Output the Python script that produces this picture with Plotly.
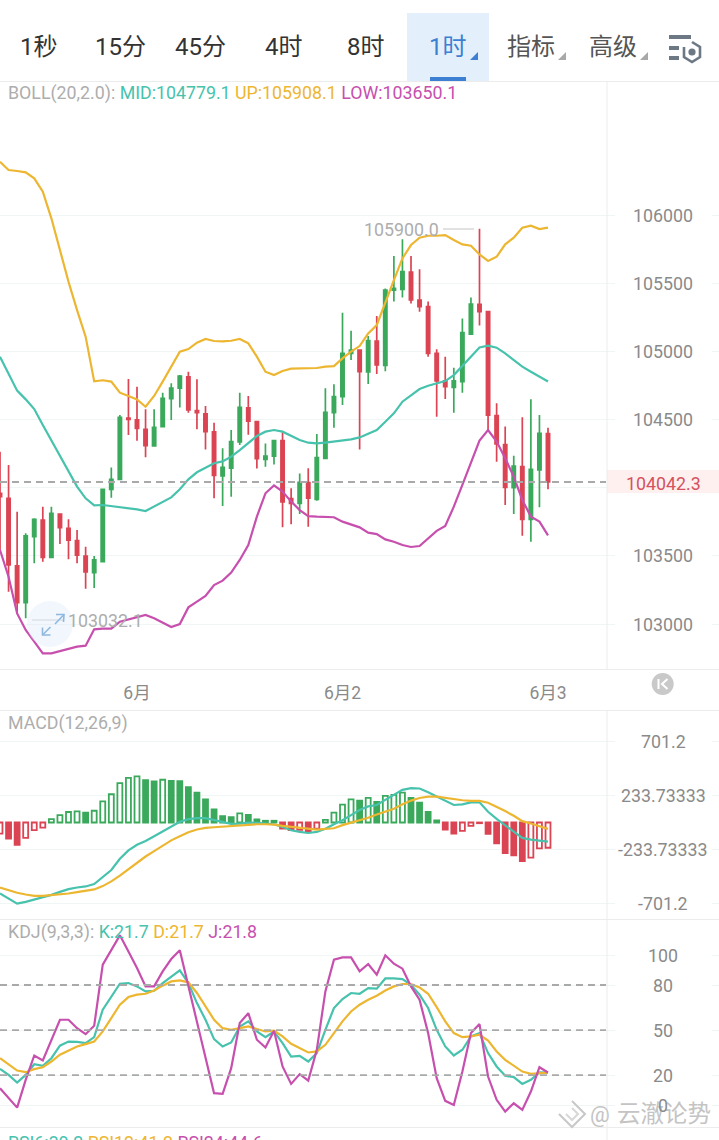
import plotly.graph_objects as go

WIDTH = 719
HEIGHT = 1140

TEAL = "#47c2ad"
YELLOW = "#edb631"
PINK = "#c74fae"
RED = "#db4453"
GREEN = "#3aa95b"
GREY_TEXT = "#8a8a8a"
LABEL_GREY = "#adadad"
GRID = "#f0f5f5"
SEPARATOR = "#ececec"
FONT = "Roboto, 'Noto Sans CJK SC', sans-serif"
LABEL_SIZE = 17.8
LINE_WIDTH = 2.2

# ---- candles (1h) ----
opens = [103959, 103922, 103426, 103157, 103641, 103763, 103489, 103807, 103702, 103611,
         103499, 103377, 103457, 103988, 104061, 104511, 104497, 104428, 104306, 104448,
         104653, 104731, 104814, 104565, 104541, 104409, 104086, 104144, 104335, 104585,
         104484, 104208, 104232, 104345, 103920, 103885, 104037, 103915, 104215, 104550,
         104668, 104986, 105010, 104849, 105076, 104898, 105450, 105455, 105582, 105377,
         105328, 104986, 104783, 104736, 104778, 105127, 105345, 105291, 104528, 104316,
         104000, 104154, 103768, 104130, 104396]
highs = [104264, 104166, 103824, 103665, 103775, 103861, 103861, 103812, 103768, 103690,
         103567, 103499, 103988, 104149, 104533, 104797, 104741, 104575, 104575, 104697,
         104766, 104827, 104851, 104795, 104599, 104477, 104289, 104423, 104697, 104673,
         104484, 104325, 104350, 104409, 103995, 104105, 104142, 104394, 104729, 104758,
         105284, 105152, 105010, 105113, 105259, 105462, 105700, 105822, 105700, 105602,
         105365, 105015, 104961, 104880, 105242, 105396, 105900, 105291, 104619, 104448,
         104235, 104516, 104648, 104533, 104440]
lows = [103543, 103237, 103078, 103042, 103445, 103457, 103489, 103587, 103475, 103445,
        103259, 103264, 103453, 103927, 104056, 104387, 104345, 104223, 104306, 104448,
        104497, 104589, 104550, 104428, 104281, 103922, 103866, 103934, 104313, 104389,
        104140, 104154, 104171, 103709, 103731, 103807, 103714, 103905, 104215, 104440,
        104607, 104937, 104281, 104761, 104834, 104854, 105365, 105396, 105352, 105291,
        104961, 104521, 104651, 104550, 104697, 105120, 105189, 104423, 104191, 103873,
        103807, 103648, 103604, 103856, 103988]
closes = [103934, 103433, 103157, 103646, 103768, 103489, 103812, 103707, 103616, 103506,
          103382, 103470, 103988, 104061, 104516, 104501, 104435, 104308, 104443, 104655,
          104731, 104819, 104570, 104550, 104411, 104091, 104149, 104338, 104589, 104489,
          104213, 104232, 104345, 103895, 103885, 104039, 103924, 104220, 104553, 104668,
          104986, 105010, 104851, 105079, 104900, 105450, 105462, 105585, 105377, 105328,
          104986, 104783, 104741, 104783, 105137, 105347, 105291, 104533, 104321, 104003,
          104159, 103768, 104135, 104399, 104042]

# ---- BOLL ----
boll_up = [106391, 106330, 106323, 106313, 106269, 106171, 105976, 105743, 105511, 105303,
           105108, 104780, 104788, 104778, 104697, 104673, 104648, 104594, 104673, 104778,
           104888, 104998, 105017, 105064, 105091, 105076, 105074, 105078, 105091, 105059,
           104961, 104851, 104826, 104856, 104873, 104873, 104875, 104878, 104888, 104892,
           104949, 104998, 105039, 105132, 105193, 105364, 105523, 105682, 105780, 105834,
           105848, 105848, 105853, 105817, 105785, 105775, 105711, 105663, 105694, 105785,
           105834, 105907, 105922, 105897, 105908]
boll_mid = [104961, 104839, 104712, 104648, 104577, 104460, 104345, 104228, 104113, 104008,
            103922, 103871, 103873, 103866, 103856, 103849, 103841, 103829, 103861, 103898,
            103929, 103988, 104061, 104113, 104149, 104179, 104193, 104228, 104276, 104330,
            104379, 104411, 104423, 104411, 104379, 104350, 104330, 104325, 104330, 104338,
            104345, 104355, 104369, 104394, 104423, 104484, 104545, 104631, 104680, 104724,
            104748, 104765, 104782, 104826, 104892, 104961, 105029, 105042, 105027, 104985,
            104936, 104888, 104851, 104814, 104779]
boll_low = [103543, 103347, 103078, 102956, 102871, 102785, 102785, 102802, 102822, 102834,
            102841, 102961, 102966, 102966, 103017, 103034, 103047, 103066, 103042, 103010,
            102978, 103000, 103122, 103164, 103206, 103286, 103318, 103377, 103470, 103580,
            103788, 103959, 104017, 103971, 103898, 103836, 103792, 103788, 103785, 103783,
            103751, 103731, 103709, 103670, 103660, 103621, 103604, 103580, 103565, 103572,
            103629, 103683, 103719, 103861, 104020, 104179, 104345, 104423, 104338, 104216,
            104081, 103910, 103788, 103751, 103650]

# ---- MACD ----
macd_hist = [-96, -140, -193, -134, -67, -44, 29, 64, 91, 96,
             85, 102, 184, 245, 342, 388, 400, 368, 356, 371,
             362, 359, 307, 260, 201, 114, 55, 47, 79, 67,
             26, 15, 15, -53, -67, -64, -82, -53, 23, 85,
             155, 201, 190, 213, 178, 231, 239, 260, 213, 172,
             91, 18, -61, -96, -73, -29, -6, -99, -181, -266,
             -286, -336, -304, -225, -219]
macd_dif = [-616, -657, -704, -689, -669, -654, -628, -602, -578, -564,
            -555, -534, -476, -412, -315, -242, -193, -161, -120, -76,
            -35, 6, 29, 38, 38, 20, 3, -12, -9, 0,
            -3, -9, -15, -38, -67, -82, -91, -82, -55, -15,
            20, 64, 108, 140, 152, 196, 239, 283, 298, 295,
            263, 225, 184, 152, 158, 175, 175, 93, 32, -23,
            -76, -134, -149, -155, -166]
macd_dea = [-564, -587, -610, -625, -637, -637, -631, -625, -616, -604,
            -593, -581, -552, -511, -461, -403, -347, -295, -248, -199,
            -155, -120, -85, -61, -47, -41, -35, -29, -23, -18,
            -15, -15, -18, -29, -38, -47, -53, -61, -55, -50,
            -23, -3, 20, 41, 70, 93, 120, 158, 190, 213,
            225, 225, 213, 201, 193, 187, 187, 172, 137, 99,
            58, 12, -9, -32, -55]

# ---- KDJ ----
kdj_k = [24.2, 20.2, 15.1, 20.2, 27.3, 26.2, 31.3, 39.6, 42.4, 42.2,
         41.3, 45.3, 63.6, 72.4, 80.9, 81.3, 79.1, 75.8, 76.2, 81.3,
         85.8, 89.8, 81.3, 68.0, 56.9, 44.0, 39.1, 41.8, 52.4, 55.8,
         49.1, 45.3, 49.1, 41.3, 32.4, 32.9, 29.1, 34.7, 50.2, 64.7,
         70.7, 74.7, 74.2, 78.0, 77.6, 84.4, 84.4, 84.0, 80.2, 73.6,
         64.7, 50.2, 39.1, 33.1, 36.9, 45.8, 48.0, 34.7, 25.8, 19.6,
         18.7, 14.2, 16.9, 21.8, 21.7]
kdj_d = [31.3, 26.9, 23.1, 22.0, 24.0, 25.3, 29.1, 33.6, 36.4, 39.1,
         40.7, 42.4, 49.1, 58.0, 66.9, 72.0, 73.6, 74.2, 76.4, 79.6,
         82.4, 83.1, 81.8, 74.7, 65.8, 56.9, 51.3, 50.2, 51.3, 52.4,
         50.7, 49.1, 49.6, 45.8, 40.9, 38.0, 35.1, 35.8, 40.2, 48.0,
         55.8, 62.4, 66.9, 70.2, 72.9, 76.4, 79.1, 80.7, 80.7, 78.4,
         74.2, 65.3, 55.8, 48.0, 45.3, 45.8, 46.9, 43.1, 35.8, 30.2,
         26.2, 22.4, 20.9, 21.3, 21.7]
kdj_j = [11.3, 4.7, -1.6, 16.9, 33.1, 29.8, 43.6, 56.9, 56.9, 51.3,
         47.3, 52.9, 93.6, 103.6, 113.1, 102.4, 91.3, 79.1, 79.1, 89.1,
         97.3, 103.1, 79.1, 54.7, 30.2, 8.0, 7.6, 24.7, 54.7, 61.3,
         43.6, 38.4, 49.6, 25.8, 14.2, 20.7, 16.4, 36.9, 75.8, 96.9,
         98.4, 98.4, 89.1, 94.0, 86.9, 99.8, 94.2, 90.9, 79.1, 70.2,
         48.0, 18.0, 2.9, 0.2, 22.4, 48.0, 54.0, 19.1, 3.6, -4.2,
         1.3, -3.1, 9.1, 25.3, 21.8]

# ---- axis text ----
date_ticks = [16, 40, 64]
date_labels = ["6月", "6月2", "6月3"]
price_ticks = [103000, 103500, 104000, 104500, 105000, 105500, 106000]
price_labels = ["103000", "103500", "", "104500", "105000", "105500", "106000"]
macd_ticks = [-701.2, -233.73333, 233.73333, 701.2]
kdj_ticks = [0, 20, 50, 80, 100]
kdj_dashed = [20, 50, 80]
last_price = 104042.3

tab_labels = ["1秒", "15分", "45分", "4时", "8时", "1时", "指标", "高级"]
tab_centers = [39, 120, 201, 284, 366, 448, 531, 613]
tab_colors = ["#333333"] * 5 + ["#3d7fd2", "#555555", "#555555"]


def px_x(x):
    return x / WIDTH


def px_y(y):
    return 1 - y / HEIGHT


def coloured(parts):
    return " ".join(f'<span style="color:{c}">{t}</span>' for t, c in parts)


def rect(x0, y0, x1, y1, fill, layer="above"):
    return dict(type="rect", xref="paper", yref="paper", x0=px_x(x0), x1=px_x(x1),
                y0=px_y(y1), y1=px_y(y0), fillcolor=fill, line=dict(width=0), layer=layer)


def seg(x0, y0, x1, y1, color, width=1.0, dash=None):
    return dict(type="line", xref="paper", yref="paper", x0=px_x(x0), x1=px_x(x1),
                y0=px_y(y0), y1=px_y(y1), line=dict(color=color, width=width, dash=dash),
                layer="above")


def poly(points, color, width=1.5, fill=None):
    path = "M" + " L".join(f"{px_x(x):.5f},{px_y(y):.5f}" for x, y in points)
    if fill:
        path += " Z"
    return dict(type="path", xref="paper", yref="paper", path=path, layer="above",
                fillcolor=fill or "rgba(0,0,0,0)", line=dict(color=color, width=width))


def circle(cx, cy, r, fill, line_color=None, line_width=0):
    return dict(type="circle", xref="paper", yref="paper", x0=px_x(cx - r), x1=px_x(cx + r),
                y0=px_y(cy + r), y1=px_y(cy - r), fillcolor=fill, layer="above",
                line=dict(color=line_color or fill, width=line_width))


def text(x, y, s, size=LABEL_SIZE, color=GREY_TEXT, anchor="center"):
    return dict(xref="paper", yref="paper", x=px_x(x), y=px_y(y), text=s, showarrow=False,
                xanchor=anchor, yanchor="middle", font=dict(family=FONT, size=size, color=color),
                borderpad=0)


def axis_label(value, s, yref, color=GREY_TEXT):
    return dict(xref="paper", yref=yref, x=px_x(663), y=value, text=s, showarrow=False,
                xanchor="center", yanchor="middle",
                font=dict(family=FONT, size=LABEL_SIZE, color=color))


xs = list(range(len(closes)))

fig = go.Figure()

fig.add_trace(go.Candlestick(
    x=xs, open=opens, high=highs, low=lows, close=closes,
    increasing=dict(line=dict(color=GREEN, width=1.7), fillcolor=GREEN),
    decreasing=dict(line=dict(color=RED, width=1.7), fillcolor=RED),
    whiskerwidth=0, xaxis="x", yaxis="y", showlegend=False,
))
for values, color in [(boll_mid, TEAL), (boll_up, YELLOW), (boll_low, PINK)]:
    fig.add_trace(go.Scatter(x=xs, y=values, mode="lines", line=dict(color=color, width=LINE_WIDTH),
                             xaxis="x", yaxis="y", showlegend=False))

# hollow bars where the histogram rose on the previous hour
hist_line = [GREEN if v >= 0 else RED for v in macd_hist]
hist_fill = []
for i, v in enumerate(macd_hist):
    if i == 0 or v > macd_hist[i - 1]:
        hist_fill.append("rgba(255,255,255,0)")
    else:
        hist_fill.append(hist_line[i])
fig.add_trace(go.Bar(x=xs, y=macd_hist, width=0.58,
                     marker=dict(color=hist_fill, line=dict(color=hist_line, width=1.8)),
                     xaxis="x2", yaxis="y2", showlegend=False))
for values, color in [(macd_dif, TEAL), (macd_dea, YELLOW)]:
    fig.add_trace(go.Scatter(x=xs, y=values, mode="lines", line=dict(color=color, width=LINE_WIDTH),
                             xaxis="x2", yaxis="y2", showlegend=False))

for values, color in [(kdj_k, TEAL), (kdj_d, YELLOW), (kdj_j, PINK)]:
    fig.add_trace(go.Scatter(x=xs, y=values, mode="lines", line=dict(color=color, width=LINE_WIDTH),
                             xaxis="x3", yaxis="y3", showlegend=False))

x_range = [0, WIDTH / 8.5625]
x_common = dict(range=x_range, showgrid=False, zeroline=False, showline=False, fixedrange=True)

shapes = [
    # grid stops under the right hand labels
    rect(615, 82, 712, 1127, "white"),
    rect(607, 470, 719, 493, "#fdf0ef"),
    rect(407, 13, 489, 81, "#e3f0fb"),
    rect(430, 77, 466, 81, "#3d7fd2"),
    seg(0, 81.5, WIDTH, 81.5, SEPARATOR),
    seg(0, 669.5, WIDTH, 669.5, SEPARATOR),
    seg(0, 710.5, WIDTH, 710.5, SEPARATOR),
    seg(0, 919.5, WIDTH, 919.5, SEPARATOR),
    seg(0, 1127.5, WIDTH, 1127.5, SEPARATOR),
    seg(607, 82, 607, 669, SEPARATOR),
    seg(607, 711, 607, 1140, SEPARATOR),
    # extreme markers
    seg(443, 229, 474, 229, "#c4c4c4"),
    seg(32, 620, 64, 620, "#c4c4c4"),
    # zoom button
    circle(50, 624, 23, "rgba(224,238,250,0.45)"),
    poly([(55, 624), (64, 614.5)], "#8fb8e0", 1.6),
    poly([(56, 614.5), (64, 614.5), (63.5, 622)], "#8fb8e0", 1.6),
    poly([(50.5, 627), (42.5, 635)], "#8fb8e0", 1.6),
    poly([(42.5, 627.5), (42.5, 635), (50.5, 635)], "#8fb8e0", 1.6),
    # tab corner marks
    poly([(478, 52), (478, 60), (470, 60)], "#3d7fd2", 0, "#3d7fd2"),
    poly([(566, 52), (566, 60), (558, 60)], "#a8a8a8", 0, "#a8a8a8"),
    poly([(648, 52), (648, 60), (640, 60)], "#a8a8a8", 0, "#a8a8a8"),
    # settings icon
    rect(669, 35, 691, 39, "#6d7885"),
    rect(669, 46, 679, 50, "#6d7885"),
    rect(669, 56, 679, 60, "#6d7885"),
    poly([(692, 42), (700, 47), (700, 57), (692, 62), (684, 57), (684, 47)], "#6d7885", 2.6),
    circle(692, 52, 3.6, "#6d7885"),
    # back to latest button
    circle(662.7, 684, 11, "#c9c9c9"),
    seg(658.5, 679, 658.5, 689, "white", 2),
    poly([(667.5, 679), (662, 684), (667.5, 689)], "white", 2),
    # watermark logo
    poly([(572, 1101), (585, 1114), (572, 1127), (559, 1114)], "#c8c8c8", 2),
    poly([(572, 1108), (578, 1114), (572, 1120), (566, 1114)], "#d8d8d8", 2),
    # last price level
    dict(type="line", xref="paper", yref="y", x0=0, x1=px_x(606), y0=last_price, y1=last_price,
         line=dict(color="#a9a9a9", width=1.9, dash="7px,5px"), layer="above"),
]
for level in kdj_dashed:
    shapes.append(dict(type="line", xref="paper", yref="y3", x0=0, x1=px_x(606), y0=level, y1=level,
                       line=dict(color="#a9a9a9", width=1.9, dash="7px,5px"), layer="above"))

annotations = [text(c, 47, s, size=24, color=col) for s, c, col in zip(tab_labels, tab_centers, tab_colors)]
annotations += [
    text(7, 93, coloured([("BOLL(20,2.0):", LABEL_GREY), ("MID:104779.1", TEAL),
                          ("UP:105908.1", YELLOW), ("LOW:103650.1", PINK)]), anchor="left"),
    text(7, 723, "MACD(12,26,9)", color=LABEL_GREY, anchor="left"),
    text(7, 932, coloured([("KDJ(9,3,3):", LABEL_GREY), ("K:21.7", TEAL),
                           ("D:21.7", YELLOW), ("J:21.8", PINK)]), anchor="left"),
    text(7, 1143, coloured([("RSI6:39.2", TEAL), ("RSI12:41.2", YELLOW), ("RSI24:44.6", PINK)]),
         anchor="left"),
    text(401, 229, "105900.0", color=LABEL_GREY),
    text(105, 620, "103032.1", color=LABEL_GREY),
    text(663, 483, f"{last_price:.1f}", color="#d5525e"),
    text(600, 1114, "@", size=22, color="#c4c4c4"),
    text(663.5, 1114, "云澈论势", size=23.5, color="#c4c4c4"),
]
for value, label in zip(price_ticks, price_labels):
    if label:
        annotations.append(axis_label(value, label, "y"))
for value in macd_ticks:
    annotations.append(axis_label(value, f"{value:g}".replace("233.733", "233.73333"), "y2"))
for value in kdj_ticks:
    annotations.append(axis_label(value, str(value), "y3"))

fig.update_layout(
    width=WIDTH,
    height=HEIGHT,
    margin=dict(l=0, r=0, t=0, b=0),
    paper_bgcolor="white",
    plot_bgcolor="white",
    showlegend=False,
    boxgap=0.46,
    font=dict(family=FONT),
    xaxis=dict(x_common, domain=[0, 1], anchor="y", rangeslider=dict(visible=False),
               tickmode="array", tickvals=date_ticks, ticktext=date_labels, ticks="outside",
               ticklen=8, tickcolor="rgba(0,0,0,0)", tickfont=dict(family=FONT, size=17.5, color=GREY_TEXT)),
    xaxis2=dict(x_common, domain=[0, 1], anchor="y2", showticklabels=False),
    xaxis3=dict(x_common, domain=[0, 1], anchor="y3", showticklabels=False),
    yaxis=dict(domain=[px_y(669), px_y(82)], range=[102670, 106976], tickmode="array",
               tickvals=price_ticks, showticklabels=False, gridcolor=GRID, gridwidth=1,
               zeroline=False, fixedrange=True),
    yaxis2=dict(domain=[px_y(919), px_y(711)], range=[-837.4, 967.6], tickmode="array",
                tickvals=macd_ticks, showticklabels=False, gridcolor=GRID, gridwidth=1,
                zeroline=False, fixedrange=True),
    yaxis3=dict(domain=[px_y(1127), px_y(920)], range=[-14.5, 123.3], tickmode="array",
                tickvals=kdj_ticks, showticklabels=False, gridcolor=GRID, gridwidth=1,
                zeroline=False, fixedrange=True),
    shapes=shapes,
    annotations=annotations,
)

fig.write_html("out.html", config={"displayModeBar": False},
               post_script="document.body.style.margin='0';")
